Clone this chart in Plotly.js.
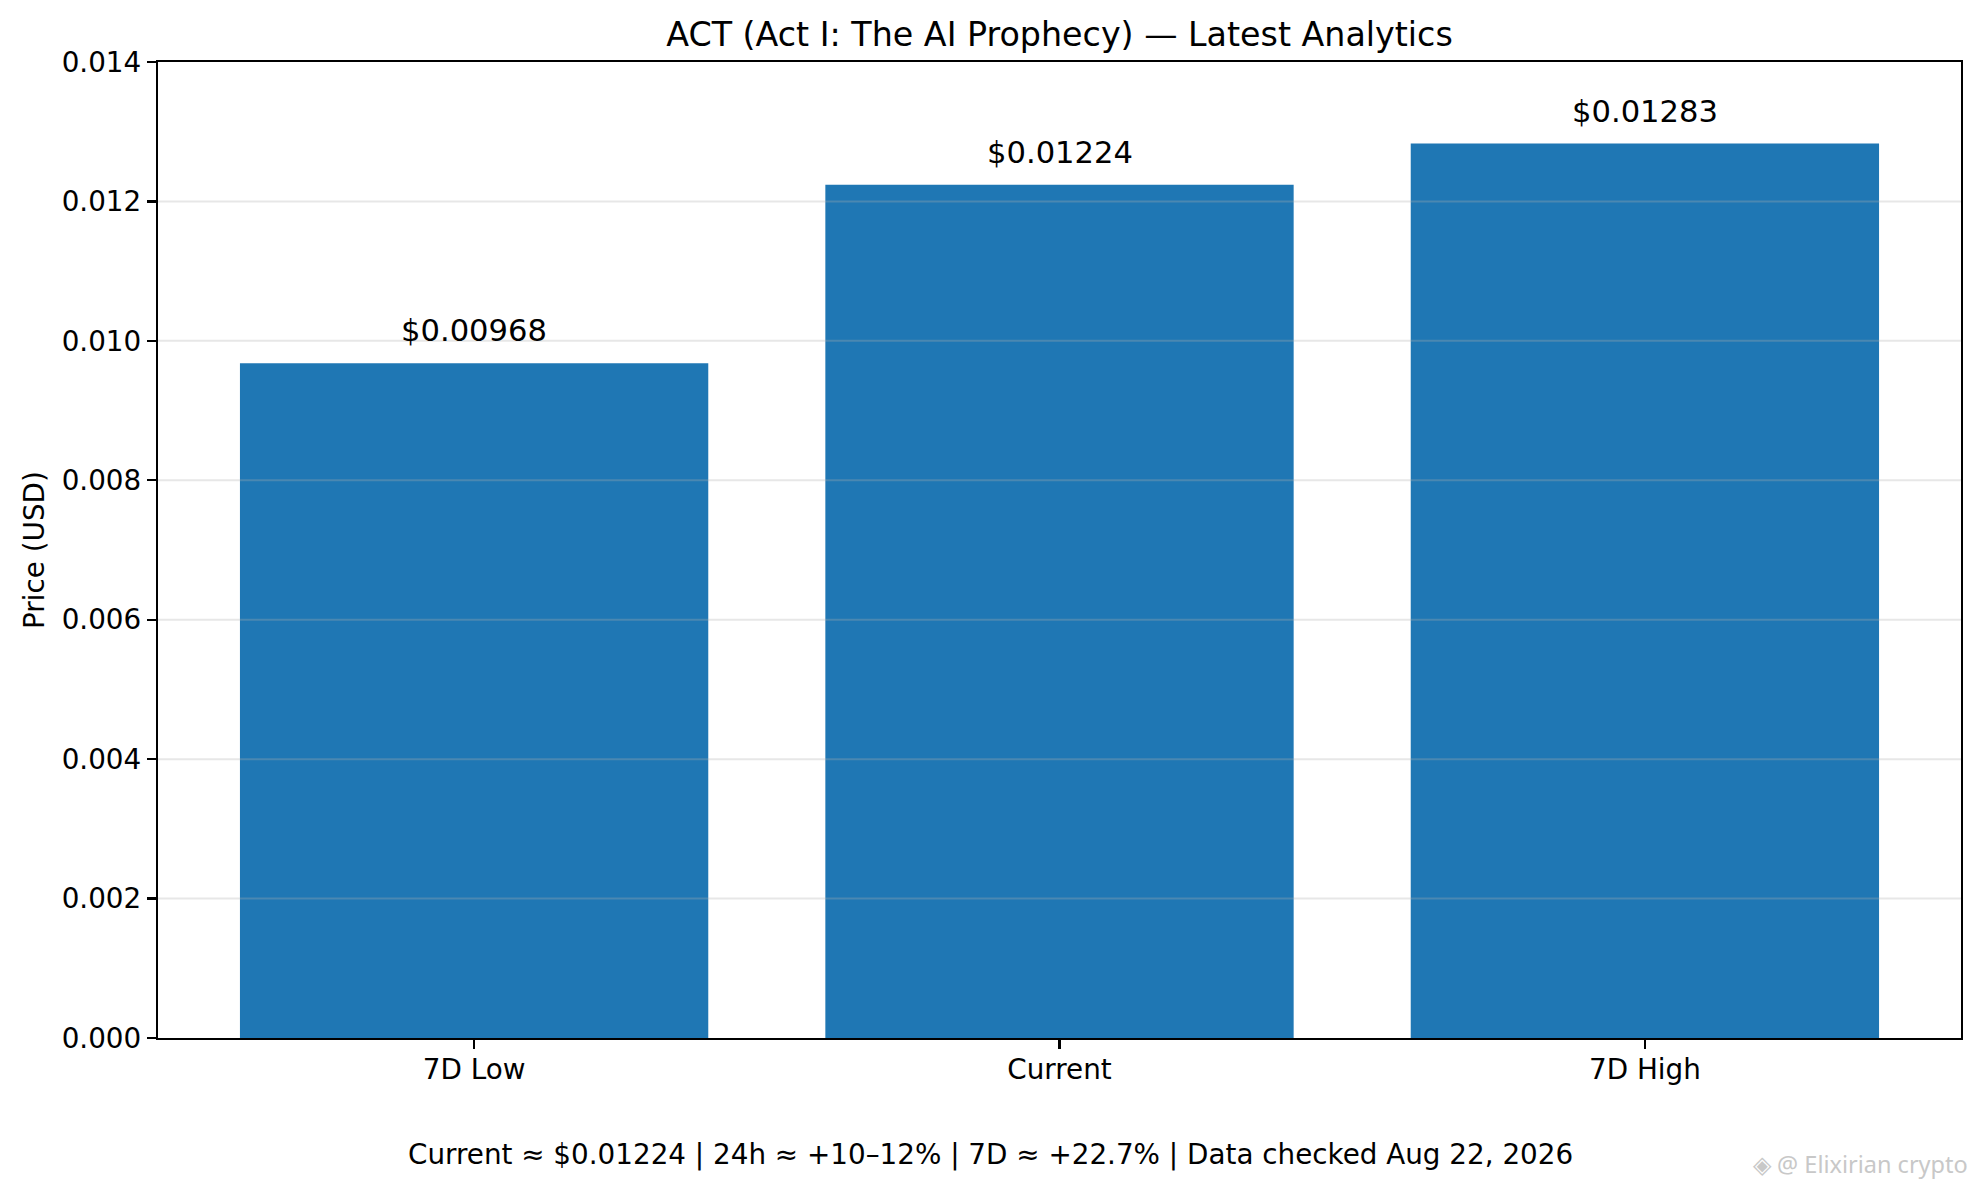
<!DOCTYPE html>
<html>
<head>
<meta charset="utf-8">
<script src="https://cdn.plot.ly/plotly-3.0.1.min.js"></script>
<style>
  html, body { margin: 0; padding: 0; background: #fff; }
  #chart { width: 1980px; height: 1190px; }
</style>
</head>
<body>
<div id="chart"></div>
<script>
// chart data
const categories = ['7D Low', 'Current', '7D High'];
const prices = [0.00968, 0.01224, 0.01283];
const priceLabels = ['$0.00968', '$0.01224', '$0.01283'];
const yTicks = [0, 0.002, 0.004, 0.006, 0.008, 0.010, 0.012, 0.014];
const titleText = 'ACT (Act I: The AI Prophecy) — Latest Analytics';
const footerText = 'Current ≈ $0.01224 | 24h ≈ +10–12% | 7D ≈ +22.7% | Data checked Aug 22, 2026';
const watermarkText = '◈ @ Elixirian crypto';

(function () {
  const FONT = 'DejaVu Sans, Verdana, sans-serif';
  const TICK_SIZE = 27.8;
  const LINE_W = 2.2;

  // bar value labels sit just above each bar
  const valueLabels = categories.map(function (cat, i) {
    return {
      x: cat,
      y: prices[i],
      xref: 'x',
      yref: 'y',
      text: priceLabels[i],
      showarrow: false,
      yanchor: 'bottom',
      yshift: 13,
      font: {family: FONT, size: 30.6, color: '#000'}
    };
  });

  // matplotlib draws its grid over the bars, so do it with shapes
  const gridLines = yTicks.slice(1, -1).map(function (v) {
    return {
      type: 'line',
      xref: 'paper',
      yref: 'y',
      x0: 0,
      x1: 1,
      y0: v,
      y1: v,
      layer: 'above',
      line: {color: 'rgba(176,176,176,0.3)', width: 2}
    };
  });

  const annotations = valueLabels.concat([
    {
      xref: 'paper', yref: 'paper',
      x: -0.0688, y: 0.5,
      text: 'Price (USD)',
      textangle: -90,
      showarrow: false,
      xanchor: 'center', yanchor: 'middle',
      font: {family: FONT, size: TICK_SIZE, color: '#000'}
    },
    {
      xref: 'paper', yref: 'paper',
      x: 0.4615, y: -0.1189,
      text: footerText,
      showarrow: false,
      xanchor: 'center', yanchor: 'middle',
      font: {family: FONT, size: TICK_SIZE, color: '#000'}
    },
    {
      xref: 'paper', yref: 'paper',
      x: 1.005, y: -0.1291,
      text: watermarkText,
      showarrow: false,
      xanchor: 'right', yanchor: 'middle',
      font: {family: 'Noto Sans, Open Sans, sans-serif', size: 23.5, color: '#c8c8c8'}
    }
  ]);

  Plotly.newPlot('chart', [{
    type: 'bar',
    x: categories,
    y: prices,
    width: 0.8,
    marker: {color: '#1f77b4', line: {width: 0}},
    hoverinfo: 'x+y'
  }], {
    width: 1980,
    height: 1190,
    paper_bgcolor: '#fff',
    plot_bgcolor: '#fff',
    margin: {l: 158, r: 19, t: 62, b: 152},
    showlegend: false,
    title: {
      text: titleText,
      x: 0.5,
      xref: 'paper',
      y: 1 - 34 / 1190,
      yref: 'container',
      xanchor: 'center',
      yanchor: 'middle',
      font: {family: FONT, size: 33.3, color: '#000'}
    },
    xaxis: {
      type: 'category',
      range: [-0.54, 2.54],
      showgrid: false,
      zeroline: false,
      showline: true,
      mirror: true,
      linecolor: '#000',
      linewidth: LINE_W,
      ticks: 'outside',
      ticklen: 9,
      tickwidth: LINE_W,
      tickcolor: '#000',
      ticklabelstandoff: -4,
      tickfont: {family: FONT, size: TICK_SIZE, color: '#000'}
    },
    yaxis: {
      range: [0, 0.014],
      tickvals: yTicks,
      tickformat: '.3f',
      showgrid: false,
      zeroline: false,
      showline: true,
      mirror: true,
      linecolor: '#000',
      linewidth: LINE_W,
      ticks: 'outside',
      ticklen: 9,
      tickwidth: LINE_W,
      tickcolor: '#000',
      ticklabelstandoff: 0,
      tickfont: {family: FONT, size: TICK_SIZE, color: '#000'}
    },
    shapes: gridLines,
    annotations: annotations
  }, {
    displayModeBar: false,
    staticPlot: true
  });
})();
</script>
</body>
</html>
